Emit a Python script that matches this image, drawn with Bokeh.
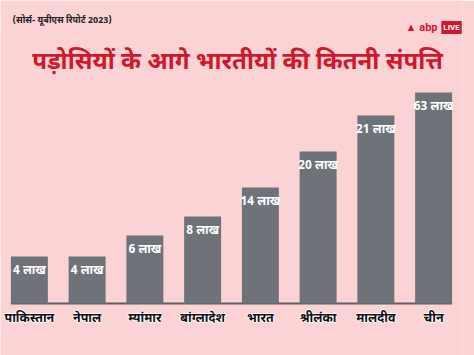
from bokeh.plotting import figure
from bokeh.models import Range1d, FactorRange, Label, ColumnDataSource
from bokeh.core.properties import value
from bokeh.embed import file_html
from bokeh.resources import INLINE

# ---- data ----
countries = ["पाकिस्तान", "नेपाल", "म्यांमार", "बांग्लादेश", "भारत", "श्रीलंका", "मालदीव", "चीन"]
wealth_lakh = [4, 4, 6, 8, 14, 20, 21, 63]          # shown values (lakh)
bar_levels = [47, 47, 68, 87, 116, 152, 188, 211]   # drawn bar heights (illustrative, not to scale)
title_text = "पड़ोसियों के आगे भारतीयों की कितनी संपत्ति"
source_text = "(सोर्स- यूबीएस रिपोर्ट 2023)"

BG = "#fcd3d4"
BAR = "#6e7279"
RED = "#d0172c"
DEV = "Noto Sans Devanagari, Noto Sans, sans-serif"

labels = [f"{v} लाख" for v in wealth_lakh]
src = ColumnDataSource(dict(c=countries, h=bar_levels, lab=labels))

p = figure(width=474, height=355, x_range=FactorRange(*countries, range_padding=0),
           y_range=Range1d(-52, 303), output_backend="svg", toolbar_location=None,
           min_border_left=0, min_border_right=12, min_border_top=0, min_border_bottom=0)
p.background_fill_color = BG
p.border_fill_color = BG
p.outline_line_color = None
p.axis.visible = False
p.grid.visible = False

# baseline
p.line(x=[(countries[0], -0.32), (countries[-1], 0.32)], y=[0, 0], line_color="#5c6067", line_width=2)

p.vbar(x="c", top="h", bottom=0, width=0.64, source=src, fill_color=BAR, line_color=None)

p.text(x="c", y="h", text="lab", source=src, text_color="white", text_font=value(DEV),
       text_font_style="bold", text_font_size="12px", text_align="center",
       text_baseline="top", y_offset=6)

# white halo behind category labels
for dx, dy in [(-1, 0), (1, 0), (0, -1), (0, 1)]:
    p.text(x="c", y=-15, text="c", source=src, text_color="white", text_font=value(DEV),
           text_font_style="bold", text_font_size="12.5px", text_align="center",
           text_baseline="middle", x_offset=dx, y_offset=dy)
p.text(x="c", y=-15, text="c", source=src, text_color="#111111", text_font=value(DEV),
       text_font_style="bold", text_font_size="12.5px", text_align="center",
       text_baseline="middle")

p.add_layout(Label(x=237, y=355 - 62, x_units="screen", y_units="screen", text=title_text,
                   text_color=RED, text_font=DEV, text_font_style="bold", text_font_size="24px",
                   text_align="center", text_baseline="middle"))
p.add_layout(Label(x=12, y=355 - 20, x_units="screen", y_units="screen", text=source_text,
                   text_color="#222222", text_font=DEV, text_font_style="bold", text_font_size="9px",
                   text_align="left", text_baseline="middle"))
# abp LIVE logo
p.add_layout(Label(x=437, y=355 - 27, x_units="screen", y_units="screen", text="▲ abp",
                   text_color=RED, text_font="Roboto", text_font_style="bold", text_font_size="11px",
                   text_align="right", text_baseline="middle"))
p.add_layout(Label(x=451, y=355 - 27, x_units="screen", y_units="screen", text="LIVE",
                   text_color="white", text_font="Roboto", text_font_style="bold", text_font_size="8px",
                   text_align="center", text_baseline="middle",
                   background_fill_color=RED, padding=2))

open("out.html", "w").write(file_html(p, INLINE))
